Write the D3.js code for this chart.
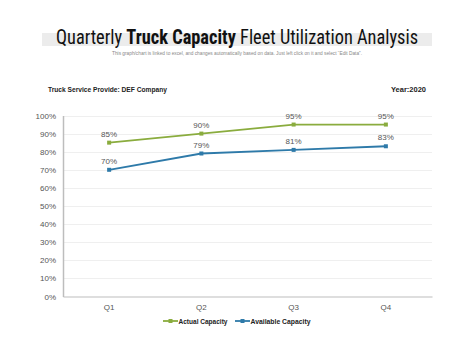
<!DOCTYPE html>
<html><head><meta charset="utf-8">
<script src="https://cdn.jsdelivr.net/npm/d3@7"></script>
<style>body{margin:0;background:#fff}svg{display:block}</style>
</head><body>
<svg id="c" width="474" height="355"></svg>
<script>
const categories = ["Q1","Q2","Q3","Q4"];
const actualCapacity = [85, 90, 95, 95];
const availableCapacity = [70, 79, 81, 83];
const yTicks = [0,10,20,30,40,50,60,70,80,90,100];
const seriesNames = ["Actual Capacity","Available Capacity"];
const seriesColors = ["#8aac3e","#2e7aa9"];

const svg = d3.select("#c");
const m = {l:63, r:432, t:115.5, b:296.5};
const x = d3.scaleBand().domain(categories).range([m.l, m.r]);
const y = d3.scaleLinear().domain([0,100]).range([m.b, m.t]);

// title band
svg.append("rect").attr("x",42).attr("y",33).attr("width",390).attr("height",13).attr("fill","#ececec");
const title = svg.append("text").attr("x",237).attr("y",43.5).attr("text-anchor","middle")
  .attr("font-family","'Liberation Sans Narrow','Roboto Condensed',Roboto,sans-serif")
  .attr("font-size",19.5).attr("fill","#111")
  .attr("textLength",362).attr("lengthAdjust","spacingAndGlyphs");
title.append("tspan").text("Quarterly ");
title.append("tspan").attr("font-weight","bold").text("Truck Capacity");
title.append("tspan").text(" Fleet Utilization Analysis");

svg.append("text").attr("x",237).attr("y",54.5).attr("text-anchor","middle")
  .attr("font-family","Liberation Sans, Arial, sans-serif").attr("font-size",5).attr("fill","#888")
  .attr("textLength",250).attr("lengthAdjust","spacingAndGlyphs")
  .text("This graph/chart is linked to excel, and changes automatically based on data. Just left click on it and select \u201CEdit Data\u201D.");

svg.append("text").attr("x",48).attr("y",92).attr("font-family","Liberation Sans, Arial, sans-serif")
  .attr("font-size",7.5).attr("font-weight","bold").attr("fill","#222")
  .attr("textLength",119).attr("lengthAdjust","spacingAndGlyphs")
  .text("Truck Service Provide: DEF Company");
svg.append("text").attr("x",426).attr("y",92).attr("text-anchor","end").attr("font-family","Liberation Sans, Arial, sans-serif")
  .attr("font-size",7.5).attr("font-weight","bold").attr("fill","#222").text("Year:2020");

// grid
svg.append("g").selectAll("line").data(yTicks.filter(d=>d>0)).join("line")
  .attr("x1",m.l).attr("x2",m.r).attr("y1",d=>Math.round(y(d))+0.5).attr("y2",d=>Math.round(y(d))+0.5)
  .attr("stroke","#efefef").attr("stroke-width",1);

// y axis
const ya = svg.append("g").attr("transform",`translate(${m.l},0)`)
  .call(d3.axisLeft(y).tickValues(yTicks).tickFormat(d=>d+"%").tickSize(0).tickPadding(7));
ya.select(".domain").attr("stroke","#bdbdbd").attr("stroke-width",1.5);
ya.selectAll("text").attr("font-family","Liberation Sans, Arial, sans-serif").attr("font-size",8).attr("fill","#555");

// x axis
const xa = svg.append("g").attr("transform",`translate(0,${m.b})`)
  .call(d3.axisBottom(x).tickSize(0).tickPadding(8));
xa.select(".domain").attr("stroke","#bdbdbd").attr("stroke-width",1.2);
xa.selectAll("text").attr("font-family","Liberation Sans, Arial, sans-serif").attr("font-size",8).attr("fill","#555");

const series = [actualCapacity, availableCapacity];
const line = d3.line().x((d,i)=>x(categories[i])+x.bandwidth()/2).y(d=>y(d));
series.forEach((vals,k)=>{
  const g = svg.append("g");
  g.append("path").datum(vals).attr("d",line).attr("fill","none").attr("stroke",seriesColors[k]).attr("stroke-width",1.8);
  g.selectAll("rect").data(vals).join("rect")
    .attr("x",(d,i)=>x(categories[i])+x.bandwidth()/2-2).attr("y",d=>y(d)-2)
    .attr("width",4).attr("height",4).attr("fill",seriesColors[k]);
  g.selectAll("text").data(vals).join("text")
    .attr("x",(d,i)=>x(categories[i])+x.bandwidth()/2).attr("y",d=>y(d)-6)
    .attr("text-anchor","middle").attr("font-family","Liberation Sans, Arial, sans-serif")
    .attr("font-size",8).attr("fill","#555").text(d=>d+"%");
});

// legend
const lg = svg.append("g").attr("font-family","Liberation Sans, Arial, sans-serif").attr("font-size",7).attr("font-weight","bold").attr("fill","#222");
const legendX = [163, 235];
const legendW = [49, 60];
seriesNames.forEach((n,k)=>{
  const lx = legendX[k], ly = 321;
  lg.append("line").attr("x1",lx).attr("x2",lx+15).attr("y1",ly).attr("y2",ly).attr("stroke",seriesColors[k]).attr("stroke-width",1.8);
  lg.append("rect").attr("x",lx+5.5).attr("y",ly-2).attr("width",4).attr("height",4).attr("fill",seriesColors[k]);
  lg.append("text").attr("x",lx+15.5).attr("y",ly+2.5).attr("textLength",legendW[k]).attr("lengthAdjust","spacingAndGlyphs").text(n);
});
</script>
</body></html>
